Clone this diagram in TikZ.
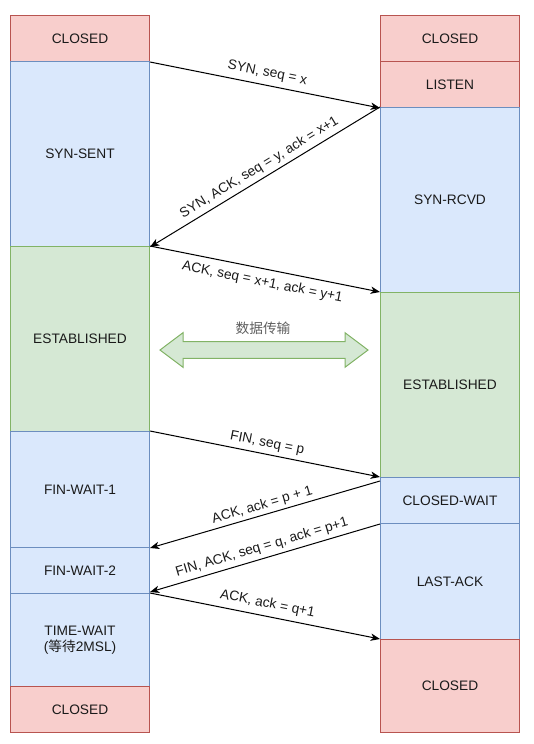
\documentclass[tikz,border=0pt]{standalone}
\usepackage{fontspec}
\setmainfont{Liberation Sans}
\newfontfamily\cjk{Noto Sans CJK SC}
\usetikzlibrary{arrows.meta,calc}
\definecolor{rfill}{HTML}{F8CECC}
\definecolor{rline}{HTML}{B85450}
\definecolor{bfill}{HTML}{DAE8FC}
\definecolor{bline}{HTML}{6C8EBF}
\definecolor{gfill}{HTML}{D5E8D4}
\definecolor{gline}{HTML}{82B366}
\definecolor{txt}{HTML}{1A1A1A}
\definecolor{cjkgray}{HTML}{5E5E5E}
\tikzset{
  statebox/.style={draw, line width=0.75pt, inner sep=0pt, anchor=north west,
    minimum width=104.25pt, align=center, text=txt},
  redbox/.style={statebox, fill=rfill, draw=rline},
  bluebox/.style={statebox, fill=bfill, draw=bline},
  greenbox/.style={statebox, fill=gfill, draw=gline},
  hA/.style={minimum height=34.5pt},
  hB/.style={minimum height=138.75pt},
  hC/.style={minimum height=87pt},
  hD/.style={minimum height=69.75pt},
  msg/.style={draw=black, line width=0.75pt, -{Stealth[length=7pt,width=5.5pt,inset=2pt]}},
  lab/.style={sloped, inner sep=2pt, text=txt},
}
\begin{document}
\begin{tikzpicture}[x=0.75pt,y=-0.75pt,font=\fontsize{10.3}{12.4}\selectfont]
\useasboundingbox (0,0) rectangle (533,744);
% left column
\node[redbox,hA] (lc1) at (10,15) {CLOSED};
\node[bluebox,hB] (lss) at (10,61) {SYN-SENT};
\node[greenbox,hB] (les) at (10,246) {ESTABLISHED};
\node[bluebox,hC] (lfw1) at (10,431) {FIN-WAIT-1};
\node[bluebox,hA] (lfw2) at (10,547) {FIN-WAIT-2};
\node[bluebox,hD] (ltw) at (10,593) {TIME-WAIT\\({\cjk 等待}2MSL)};
\node[redbox,hA] (lc2) at (10,686) {CLOSED};
% right column
\node[redbox,hA] (rc1) at (380,15) {CLOSED};
\node[redbox,hA] (rli) at (380,61) {LISTEN};
\node[bluebox,hB] (rsr) at (380,107) {SYN-RCVD};
\node[greenbox,hB] (res) at (380,292) {ESTABLISHED};
\node[bluebox,hA] (rcw) at (380,477) {CLOSED-WAIT};
\node[bluebox,hC] (rla) at (380,523) {LAST-ACK};
\node[redbox,hD] (rc2) at (380,639) {CLOSED};
% messages
\draw[msg] (lc1.south east) -- node[lab,above=2pt] (l1) {SYN, seq = x} (rli.south west);
\draw[msg] (rsr.north west) -- node[lab,above=1pt] (l2) {SYN, ACK, seq = y, ack = x+1} (lss.south east);
\draw[msg] (les.north east) -- node[lab,below=3pt] (l3) {ACK, seq = x+1, ack = y+1} (res.north west);
\draw[msg] (lfw1.north east) -- node[lab,above=1pt] (l4) {FIN, seq = p} (rcw.north west);
\coordinate (s5) at ($(rcw.north west)+(0,4)$);
\draw[msg] (s5) -- node[lab,above=0pt] (l5) {ACK, ack = p + 1} (lfw1.south east);
\coordinate (s6) at ($(rla.north west)+(0,1)$);
\coordinate (e6) at ($(lfw2.south east)+(0,-2)$);
\draw[msg] (s6) -- node[lab,above=1pt] (l6) {FIN, ACK, seq = q, ack = p+1} (e6);
\draw[msg] (ltw.north east) -- node[lab,above=2pt] (l7) {ACK, ack = q+1} (rc2.north west);
% data transfer
\draw[fill=gfill, draw=gline, line width=0.75pt]
  (160,350) -- (183,332.7) -- (183,341.7) -- (345,341.7) -- (345,332.7) -- (368,350)
  -- (345,367.3) -- (345,358.3) -- (183,358.3) -- (183,367.3) -- cycle;
\node[text=cjkgray, inner sep=0pt] (dt) at (263,328) {\cjk 数据传输};
\end{tikzpicture}
\end{document}
